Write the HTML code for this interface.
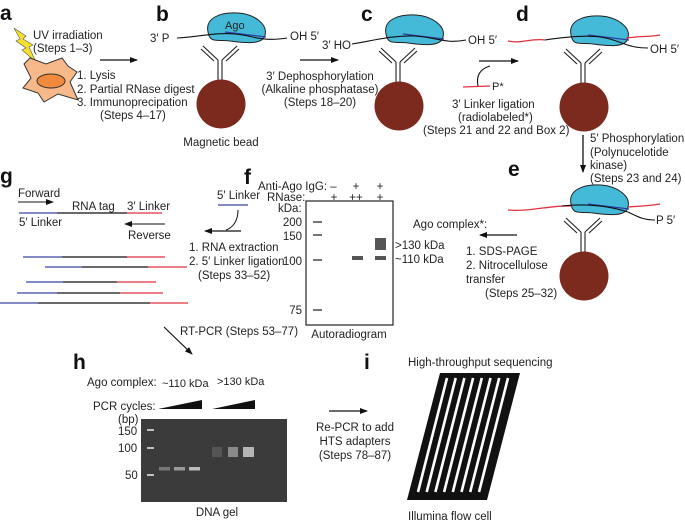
<!DOCTYPE html>
<html><head><meta charset="utf-8"><style>
html,body{margin:0;padding:0;background:#fff}
svg{display:block}
text{font-family:"Liberation Sans",Arial,sans-serif;font-size:11.5px;fill:#222}
.L{font-size:21px;font-weight:bold;fill:#111}
.s{font-size:11px}
</style></head><body>
<svg width="685" height="524" viewBox="0 0 685 524" xmlns="http://www.w3.org/2000/svg">
<defs>
<marker id="ah" markerWidth="8" markerHeight="6" refX="7" refY="3" orient="auto" markerUnits="userSpaceOnUse"><path d="M0,0 L8,3 L0,6 Z" fill="#111"/></marker>
<g id="cx">
  <path d="M-2,80 L-2,60 M2,80 L2,60" stroke="#222" stroke-width="1.1" fill="none"/>
  <path d="M-2,60 L-17,46 M-6,61 L-19,49 M2,60 L17,46 M6,61 L19,49" stroke="#222" stroke-width="1.1" fill="none"/>
  <circle cx="1" cy="104" r="24.5" fill="#7b2a1d"/>
  <path d="M-12,32 C-15,18 0,12 18,13 C34,14 48,24 45,35 C43,45 25,43 10,41 C-2,39 -10,44 -12,32 Z" fill="#45b9d8" stroke="#222" stroke-width="1"/>
  <path d="M5,32 L46,37" stroke="#2b3fa0" stroke-width="1.2"/>
</g>
</defs>

<!-- a -->
<text x="0" y="20" class="L">a</text>
<path d="M14,28 L26,36 L23,39 L33,45 L29,47 L36,62 L22,50 L26,48 L16,41 L20,39 Z" fill="#f5e02a" stroke="#555" stroke-width="0.6"/>
<path d="M30,58 L46,64 L62,58 L68,66 L77,72 L70,82 L78,100 L58,94 L44,102 L38,93 L23,88 L31,78 L24,64 Z" fill="#f7b98a" stroke="#333" stroke-width="1"/>
<ellipse cx="51" cy="81" rx="14" ry="7" fill="#f08a3c" stroke="#333" stroke-width="1"/>
<text x="33" y="39">UV irradiation</text>
<text x="33" y="52">(Steps 1–3)</text>
<line x1="100" y1="60" x2="137" y2="60" stroke="#111" stroke-width="1.3" marker-end="url(#ah)"/>
<text x="77" y="79">1. Lysis</text>
<text x="77" y="93">2. Partial RNase digest</text>
<text x="77" y="106">3. Immunoprecipation</text>
<text x="100" y="119">(Steps 4–17)</text>

<!-- b -->
<text x="156" y="21" class="L">b</text>
<use href="#cx" transform="translate(220,0)"/>
<path d="M177,38 C200,37 215,32 235,34 C255,36 262,42 287,38" stroke="#111" stroke-width="1.1" fill="none"/>
<text x="225" y="29" class="s">Ago</text>
<text x="150" y="42">3′ P</text>
<text x="290" y="40">OH 5′</text>
<text x="221" y="146" text-anchor="middle">Magnetic bead</text>
<line x1="300" y1="60" x2="338" y2="60" stroke="#111" stroke-width="1.3" marker-end="url(#ah)"/>
<text x="320" y="80" text-anchor="middle">3′ Dephosphorylation</text>
<text x="320" y="93" text-anchor="middle">(Alkaline phosphatase)</text>
<text x="320" y="106" text-anchor="middle">(Steps 18–20)</text>

<!-- c -->
<text x="361" y="21" class="L">c</text>
<use href="#cx" transform="translate(398,2)"/>
<path d="M352,44 C372,41 392,35 415,36 C440,38 445,44 466,40" stroke="#111" stroke-width="1.1" fill="none"/>
<text x="322" y="49">3′ HO</text>
<text x="468" y="44">OH 5′</text>
<line x1="479" y1="61" x2="518" y2="61" stroke="#111" stroke-width="1.3" marker-end="url(#ah)"/>
<path d="M478,86 C476,76 480,69 490,66" stroke="#111" stroke-width="1.1" fill="none"/>
<path d="M463,87 L490,86" stroke="#e0323c" stroke-width="1.3"/>
<text x="492" y="90" class="s">P*</text>
<text x="452" y="108">3′ Linker ligation</text>
<text x="458" y="121">(radiolabeled*)</text>
<text x="423" y="134">(Steps 21 and 22 and Box 2)</text>

<!-- d -->
<text x="516" y="21" class="L">d</text>
<use href="#cx" transform="translate(583,3)"/>
<path d="M508,41 C520,44 532,38 545,40" stroke="#e0323c" stroke-width="1.3" fill="none"/>
<path d="M545,40 C565,37 585,35 600,37 C622,40 625,48 648,48" stroke="#111" stroke-width="1.1" fill="none"/>
<path d="M626,38 C640,36 650,37 660,35" stroke="#e0323c" stroke-width="1.3" fill="none"/>
<text x="650" y="53">OH 5′</text>
<line x1="583" y1="135" x2="583" y2="172" stroke="#111" stroke-width="1.3" marker-end="url(#ah)"/>
<text x="590" y="142">5′ Phosphorylation</text>
<text x="590" y="156">(Polynucelotide</text>
<text x="590" y="169">kinase)</text>
<text x="590" y="182">(Steps 23 and 24)</text>

<!-- e -->
<text x="508" y="176" class="L">e</text>
<use href="#cx" transform="translate(583,172)"/>
<path d="M508,210 C530,212 550,205 572,206" stroke="#e0323c" stroke-width="1.3" fill="none"/>
<path d="M562,206 C590,203 612,207 628,212 C640,218 645,220 655,220" stroke="#111" stroke-width="1.1" fill="none"/>
<path d="M628,207 C640,206 650,206 660,204" stroke="#e0323c" stroke-width="1.3" fill="none"/>
<text x="656" y="224">P 5′</text>
<line x1="517" y1="235" x2="480" y2="235" stroke="#111" stroke-width="1.3" marker-end="url(#ah)"/>
<text x="413" y="228">Ago complex*:</text>
<text x="395" y="249">&gt;130 kDa</text>
<text x="395" y="263">~110 kDa</text>
<text x="466" y="255">1. SDS-PAGE</text>
<text x="466" y="269">2. Nitrocellulose</text>
<text x="466" y="283">transfer</text>
<text x="485" y="297">(Steps 25–32)</text>

<!-- f -->
<text x="244" y="184" class="L">f</text>
<text x="258" y="190">Anti-Ago IgG: –</text>
<text x="356" y="190" text-anchor="middle">+</text>
<text x="380" y="190" text-anchor="middle">+</text>
<text x="267" y="201">RNase:</text>
<text x="334" y="201" text-anchor="middle">+</text>
<text x="356" y="201" text-anchor="middle">++</text>
<text x="380" y="201" text-anchor="middle">+</text>
<text x="278" y="212">kDa:</text>
<rect x="306" y="201" width="87" height="124" fill="#fff" stroke="#222" stroke-width="1.2"/>
<text x="302" y="226" text-anchor="end">200</text>
<text x="302" y="240" text-anchor="end">150</text>
<text x="302" y="265" text-anchor="end">100</text>
<text x="302" y="314" text-anchor="end">75</text>
<path d="M313,222 H322 M313,235 H322 M313,260 H322 M313,310 H322" stroke="#222" stroke-width="1.3"/>
<rect x="352" y="256" width="11" height="4" fill="#555"/>
<rect x="375" y="256" width="11" height="4" fill="#555"/>
<rect x="375" y="238" width="11" height="12" fill="#555"/>
<text x="349" y="338" text-anchor="middle">Autoradiogram</text>

<!-- g -->
<text x="0" y="183" class="L">g</text>
<text x="18" y="197">Forward</text>
<line x1="18" y1="202" x2="53" y2="202" stroke="#111" stroke-width="1" marker-end="url(#ah)"/>
<text x="72" y="210">RNA tag</text>
<text x="127" y="210">3′ Linker</text>
<path d="M19,213 H57" stroke="#3b45a8" stroke-width="1.3"/><path d="M57,213 H127" stroke="#111" stroke-width="1.3"/><path d="M127,213 H162" stroke="#e0323c" stroke-width="1.3"/>
<text x="19" y="226">5′ Linker</text>
<line x1="165" y1="224" x2="125" y2="224" stroke="#111" stroke-width="1" marker-end="url(#ah)"/>
<text x="128" y="239">Reverse</text>
<g stroke-width="1.3">
<path d="M23,257 H62" stroke="#3b45a8"/><path d="M62,257 H127" stroke="#111"/><path d="M127,257 H165" stroke="#e0323c"/>
<path d="M45,267 H82" stroke="#3b45a8"/><path d="M82,267 H148" stroke="#111"/><path d="M148,267 H187" stroke="#e0323c"/>
<path d="M26,282 H63" stroke="#3b45a8"/><path d="M63,282 H117" stroke="#111"/><path d="M117,282 H156" stroke="#e0323c"/>
<path d="M17,293 H57" stroke="#3b45a8"/><path d="M57,293 H120" stroke="#111"/><path d="M120,293 H163" stroke="#e0323c"/>
<path d="M0,303 H38" stroke="#3b45a8"/><path d="M38,303 H150" stroke="#111"/><path d="M150,303 H188" stroke="#e0323c"/>
</g>
<text x="217" y="199">5′ Linker</text>
<path d="M218,205 H248" stroke="#3b45a8" stroke-width="1.3"/>
<path d="M238,210 C238,222 232,228 226,230" stroke="#111" stroke-width="1" fill="none"/>
<line x1="241" y1="231" x2="205" y2="231" stroke="#111" stroke-width="1.3" marker-end="url(#ah)"/>
<text x="189" y="251">1. RNA extraction</text>
<text x="189" y="265">2. 5′ Linker ligation</text>
<text x="198" y="279">(Steps 33–52)</text>
<line x1="164" y1="327" x2="192" y2="354" stroke="#111" stroke-width="1.2" marker-end="url(#ah)"/>
<text x="180" y="335">RT-PCR (Steps 53–77)</text>

<!-- h -->
<text x="73" y="369" class="L">h</text>
<text x="87" y="386">Ago complex:</text>
<text x="162" y="387" class="s">~110 kDa</text>
<text x="217" y="385" class="s">&gt;130 kDa</text>
<text x="93" y="410">PCR cycles:</text>
<path d="M158,409 L202,400 L202,409 Z" fill="#111"/>
<path d="M212,409 L255,400 L255,409 Z" fill="#111"/>
<text x="118" y="423">(bp)</text>
<text x="118" y="435">150</text>
<text x="118" y="452">100</text>
<text x="125" y="479">50</text>
<rect x="141" y="419" width="146" height="83" fill="#3b3b3b"/>
<path d="M147,430 H154 M147,448 H154 M147,475 H154" stroke="#eee" stroke-width="1.5"/>
<rect x="159" y="467" width="11" height="3.5" fill="#777"/>
<rect x="174" y="467" width="11" height="3.5" fill="#999"/>
<rect x="189" y="467" width="11" height="3.5" fill="#bbb"/>
<rect x="212" y="447" width="10" height="10" fill="#555"/>
<rect x="228" y="447" width="10" height="10" fill="#8a8a8a"/>
<rect x="243" y="447" width="11" height="10" fill="#b5b5b5"/>
<text x="217" y="516" text-anchor="middle">DNA gel</text>

<!-- i -->
<line x1="329" y1="411" x2="367" y2="411" stroke="#111" stroke-width="1.3" marker-end="url(#ah)"/>
<text x="355" y="431" text-anchor="middle">Re-PCR to add</text>
<text x="355" y="445" text-anchor="middle">HTS adapters</text>
<text x="355" y="459" text-anchor="middle">(Steps 78–87)</text>
<text x="364" y="369" class="L">i</text>
<text x="408" y="366">High-throughput sequencing</text>
<path d="M440,373 L520,373 L487,500 L407,500 Z" fill="#111"/>
<g stroke="#fff" stroke-width="2.6">
<line x1="447" y1="378" x2="418" y2="492"/>
<line x1="455.7" y1="378" x2="426.7" y2="492"/>
<line x1="464.4" y1="378" x2="435.4" y2="492"/>
<line x1="473.1" y1="378" x2="444.1" y2="492"/>
<line x1="481.8" y1="378" x2="452.8" y2="492"/>
<line x1="490.5" y1="378" x2="461.5" y2="492"/>
<line x1="499.2" y1="378" x2="470.2" y2="492"/>
<line x1="508" y1="378" x2="479" y2="492"/>
</g>
<text x="408" y="520">Illumina flow cell</text>
</svg>
</body></html>
